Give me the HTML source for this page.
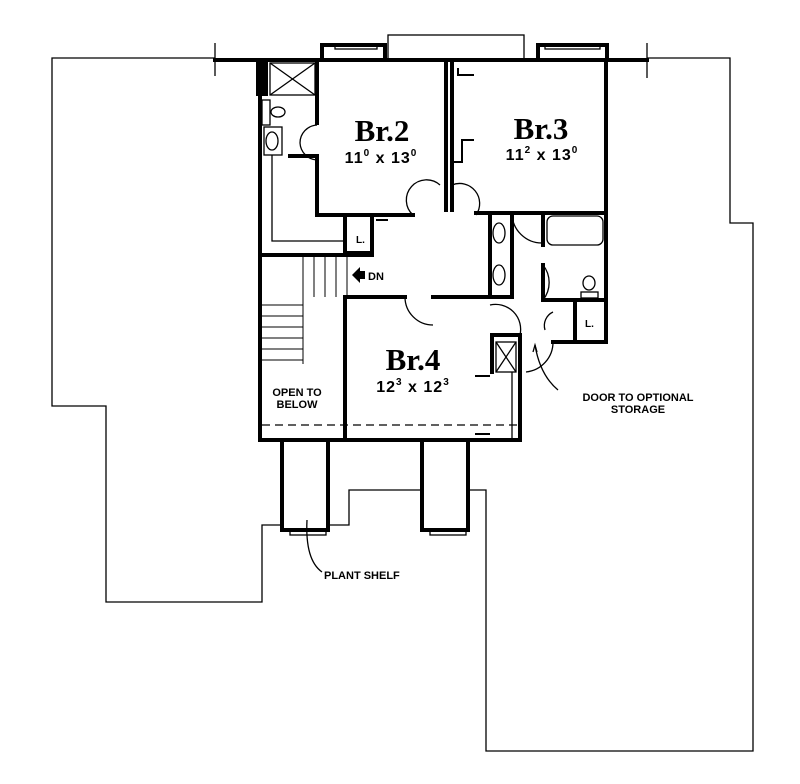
<!DOCTYPE html>
<html><head><style>
body{margin:0;background:#fff;}
svg{display:block;}
.t{font-family:"Liberation Sans",Arial,sans-serif;font-weight:bold;fill:#000;}
.s{font-family:"Liberation Serif",serif;font-weight:bold;fill:#000;}
</style></head><body>
<svg width="800" height="784" viewBox="0 0 800 784" xmlns="http://www.w3.org/2000/svg">
<g fill="none" stroke="#000" stroke-width="1.3">
<polyline points="215,58 52,58 52,406 106,406 106,602 262,602 262,525 282,525"/>
<polyline points="328,525 349,525 349,490 422,490"/>
<polyline points="468,490 486,490 486,751 753,751 753,223 730,223 730,58 647,58"/>
<line x1="215" y1="43" x2="215" y2="76"/>
<line x1="647" y1="43" x2="647" y2="78"/>
<rect x="388" y="35" width="136" height="25"/>
<rect x="335" y="44" width="42" height="5"/>
<rect x="545" y="44" width="55" height="5"/>
<rect x="290" y="530" width="36" height="5"/>
<rect x="430" y="530" width="36" height="5"/>
<rect x="270" y="63" width="45" height="32"/>
<line x1="270" y1="63" x2="315" y2="95"/><line x1="315" y1="63" x2="270" y2="95"/>
<rect x="496" y="342" width="20" height="30"/>
<line x1="496" y1="342" x2="516" y2="372"/><line x1="516" y1="342" x2="496" y2="372"/>
<rect x="262" y="100" width="8" height="25"/><ellipse cx="278" cy="112" rx="7" ry="5"/>
<rect x="264" y="127" width="18" height="28"/><ellipse cx="272" cy="141" rx="6" ry="9"/>
<rect x="547" y="216" width="56" height="29" rx="6"/>
<ellipse cx="499" cy="233" rx="6" ry="10"/><ellipse cx="499" cy="275" rx="6" ry="10"/>
<ellipse cx="589" cy="283" rx="6" ry="7"/><rect x="581" y="292" width="17" height="6"/>
<polyline points="272,155 272,241 345,241"/>
<line x1="512" y1="372" x2="512" y2="440"/>
<g stroke-width="1">
<line x1="303" y1="255" x2="303" y2="297"/>
<line x1="314" y1="257" x2="314" y2="297"/><line x1="325" y1="257" x2="325" y2="297"/><line x1="336" y1="257" x2="336" y2="297"/><line x1="347" y1="257" x2="347" y2="297"/>
<line x1="303" y1="297" x2="303" y2="364"/>
<line x1="262" y1="305" x2="303" y2="305"/><line x1="262" y1="316" x2="303" y2="316"/><line x1="262" y1="327" x2="303" y2="327"/><line x1="262" y1="338" x2="303" y2="338"/><line x1="262" y1="349" x2="303" y2="349"/><line x1="262" y1="360" x2="303" y2="360"/>
</g>
<path d="M317,125 A18,18 0 0,0 300,143"/>
<path d="M317,160 A18,18 0 0,1 300,143"/>
<path d="M413,215 A20,20 0 0,1 440,185"/>
<path d="M476,215 A20,20 0 0,0 452,185"/>
<path d="M405,297 A28,28 0 0,0 433,325"/>
<path d="M512,213 A30,30 0 0,0 543,243"/>
<path d="M543,265 A28,28 0 0,1 543,300"/>
<path d="M490,305 A25,25 0 0,1 520,335"/>
<path d="M553,312 A15,15 0 0,0 545,330"/>
<path d="M526,372 A30,30 0 0,0 553,342"/>
<path d="M558,390 Q540,375 535,345"/>
<path d="M537,352 l-2,-7 l-2,7"/>
<path d="M322,572 Q305,560 307,520"/>
<line x1="262" y1="425" x2="518" y2="425" stroke-dasharray="8,5"/>
<line x1="262" y1="440" x2="518" y2="440" stroke-dasharray="8,5"/>
</g>
<g fill="none" stroke="#000" stroke-width="4" stroke-linecap="square">
<line x1="215" y1="60" x2="647" y2="60"/>
<polyline points="322,60 322,45 385,45 385,60"/>
<polyline points="538,60 538,45 607,45 607,60"/>
<line x1="260" y1="60" x2="260" y2="440"/>
<polyline points="317,60 317,123"/>
<polyline points="317,158 317,215 413,215"/>
<line x1="290" y1="156" x2="317" y2="156"/>
<line x1="446" y1="60" x2="446" y2="210"/>
<line x1="452" y1="60" x2="452" y2="210"/>
<polyline points="476,213 606,213"/>
<line x1="606" y1="60" x2="606" y2="342"/>
<polyline points="345,215 345,253 372,253 372,215"/>
<line x1="260" y1="255" x2="372" y2="255"/>
<polyline points="345,297 405,297"/>
<polyline points="433,297 490,297 490,213"/>
<line x1="486" y1="297" x2="512" y2="297"/>
<polyline points="512,213 512,297"/>
<polyline points="543,213 543,245"/>
<polyline points="543,265 543,300 606,300"/>
<polyline points="575,300 575,340"/>
<polyline points="553,342 606,342"/>
<line x1="345" y1="297" x2="345" y2="440"/>
<polyline points="492,335 520,335 520,440"/>
<line x1="492" y1="335" x2="492" y2="372"/>
<line x1="260" y1="440" x2="520" y2="440"/>
<polyline points="282,440 282,530 328,530 328,440"/>
<polyline points="422,440 422,530 468,530 468,440"/>
</g>
<g stroke="#000" stroke-width="2" fill="none">
<polyline points="458,68 458,75 474,75"/>
<polyline points="452,162 462,162 462,140 474,140"/>
<line x1="376" y1="220" x2="388" y2="220"/>
<line x1="475" y1="376" x2="490" y2="376"/>
<line x1="475" y1="434" x2="490" y2="434"/>
</g>
<rect x="256" y="60" width="12" height="36" fill="#000"/>
<path d="M352,275 l8,-8 l0,4 l5,0 l0,8 l-5,0 l0,4 z" fill="#000"/>
<text class="s" x="382" y="141" font-size="31" text-anchor="middle">Br.2</text>
<text class="t" x="381" y="163" font-size="16" text-anchor="middle" letter-spacing="1">11<tspan font-size="10" dy="-7">0</tspan><tspan dy="7"> x 13</tspan><tspan font-size="10" dy="-7">0</tspan></text>
<text class="s" x="541" y="139" font-size="31" text-anchor="middle">Br.3</text>
<text class="t" x="542" y="160" font-size="16" text-anchor="middle" letter-spacing="1">11<tspan font-size="10" dy="-7">2</tspan><tspan dy="7"> x 13</tspan><tspan font-size="10" dy="-7">0</tspan></text>
<text class="s" x="413" y="370" font-size="31" text-anchor="middle">Br.4</text>
<text class="t" x="413" y="392" font-size="16" text-anchor="middle" letter-spacing="1">12<tspan font-size="10" dy="-7">3</tspan><tspan dy="7"> x 12</tspan><tspan font-size="10" dy="-7">3</tspan></text>
<text class="t" x="297" y="396" font-size="11" text-anchor="middle">OPEN TO</text>
<text class="t" x="297" y="408" font-size="11" text-anchor="middle">BELOW</text>
<text class="t" x="368" y="280" font-size="11">DN</text>
<text class="t" x="356" y="243" font-size="10">L.</text>
<text class="t" x="585" y="327" font-size="10">L.</text>
<text class="t" x="638" y="401" font-size="11" text-anchor="middle">DOOR TO OPTIONAL</text>
<text class="t" x="638" y="413" font-size="11" text-anchor="middle">STORAGE</text>
<text class="t" x="324" y="579" font-size="11">PLANT SHELF</text>
</svg>
</body></html>
